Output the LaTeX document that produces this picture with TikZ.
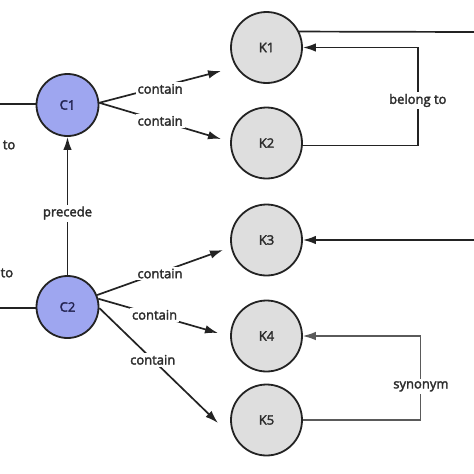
\documentclass[tikz,border=0pt]{standalone}
\usepackage{fontspec}
\setmainfont{Open Sans}
\newfontfamily\lblfont{Open Sans}[FakeBold=2.5]
\usetikzlibrary{arrows.meta,calc}
\definecolor{cfill}{RGB}{158,166,240}
\definecolor{kfill}{RGB}{222,222,222}
\definecolor{edge}{RGB}{35,35,35}
\definecolor{txt}{RGB}{45,45,45}
\definecolor{ctxt}{RGB}{35,35,80}
\tikzset{
  cnode/.style={circle, draw=edge, line width=1.8pt, fill=cfill, minimum size=62pt, inner sep=0pt,
    font=\lblfont\fontsize{13}{15}\selectfont, text=ctxt},
  knode/.style={circle, draw=edge, line width=1.8pt, fill=kfill, minimum size=71pt, inner sep=0pt,
    font=\lblfont\fontsize{13}{15}\selectfont, text=txt},
  conn/.style={draw=edge, line width=1.7pt},
  arr/.style={conn, -{Latex[length=13pt,width=8.5pt]}},
  thin conn/.style={draw=edge!75, line width=1.1pt},
  thin arr/.style={thin conn, -{Latex[length=13pt,width=8.5pt]}},
  lbl/.style={fill=white, inner sep=2pt, text=txt, font=\lblfont\fontsize{13}{15}\selectfont},
}
\begin{document}
\begin{tikzpicture}[x=1pt,y=-1pt]
\useasboundingbox (0,0) rectangle (474,474);
\fill[white] (0,0) rectangle (474,474);

\node[cnode] (C1) at (67.5,105) {C1};
\node[cnode] (C2) at (67.5,307) {C2};
\node[knode] (K1) at (266.5,47.5) {K1};
\node[knode] (K2) at (266.5,143) {K2};
\node[knode] (K3) at (266.5,240) {K3};
\node[knode] (K4) at (266.5,336) {K4};
\node[knode] (K5) at (266.5,420) {K5};

% free ends at the edges
\coordinate (L1) at (0,104);
\coordinate (L2) at (0,308);
\coordinate (R1) at (474,32);
\coordinate (R3) at (474,240);
\coordinate (T1) at (221,71);
\coordinate (T2) at (221,139);
\coordinate (T3) at (223,250);
\coordinate (T4) at (218,333);
\coordinate (T5) at (218,423);

\node[text=txt, font=\lblfont\fontsize{13}{15}\selectfont, anchor=east, inner sep=0pt] (to1) at (15.5,145) {to};
\node[text=txt, font=\lblfont\fontsize{13}{15}\selectfont, anchor=west, inner sep=0pt] (to2) at (0.5,273) {to};

\draw[conn] (L1) -- (C1.west |- L1);
\draw[conn] (L2) -- (C2.west |- L2);

\draw[arr] (C2.north) -- (C1.south) node[lbl, pos=0.5, yshift=-7pt] {precede};

\draw[arr] (C1.4) -- (T1) node[lbl, pos=0.5, yshift=-2pt] {contain};
\draw[arr] (C1.4) -- (T2) node[lbl, pos=0.5] {contain};

\draw[arr] (C2.22) -- (T3) node[lbl, pos=0.5, yshift=-1pt] {contain};
\draw[arr] (C2.15) -- (T4) node[lbl, pos=0.47] {contain};
\draw[arr] (C2.-2) -- (T5) node[lbl, pos=0.45] {contain};

\draw[conn] (K1.26) -- (R1);
\draw[arr] (K2.-4) -- ++(115,0) |- (K1.east) node[lbl, pos=0.23] {belong to};
\draw[arr] (R3) -- (K3.east);
\draw[thin arr] (K5.east) -- ++(118,0) |- (K4.east) node[lbl, pos=0.2] {synonym};
\end{tikzpicture}
\end{document}
